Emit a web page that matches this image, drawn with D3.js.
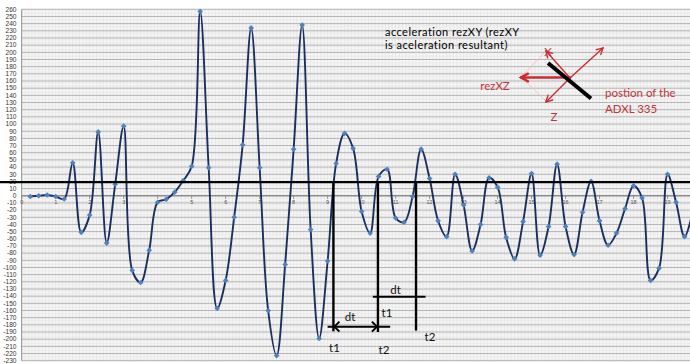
<!DOCTYPE html>
<html><head><meta charset="utf-8">
<script src="https://cdn.jsdelivr.net/npm/d3@7"></script>
<style>html,body{margin:0;padding:0;background:#fff;} svg{display:block;}</style>
</head><body>
<svg id="c" width="690" height="364"></svg>
<script>
// ---- data ----
const timeValues = [0.25,0.5,0.75,1,1.25,1.5,1.75,2,2.25,2.5,2.75,3,3.25,3.5,3.75,4,4.25,4.5,4.75,5,
  5.25,5.5,5.75,6,6.25,6.5,6.75,7,7.25,7.5,7.75,8,8.25,8.5,8.75,9,9.25,9.5,9.75,10,
  10.25,10.5,10.75,11,11.25,11.5,11.75,12,12.25,12.5,12.75,13,13.25,13.5,13.75,14,14.25,14.5,14.75,15,
  15.25,15.5,15.75,16,16.25,16.5,16.75,17,17.25,17.5,17.75,18,18.25,18.5,18.75,19,19.25,19.5,19.75];
const rezXY = [-1,0,1,-1,-4.5,46,-51,-27,89,-66,16,97,-104,-121,-76,-9,-5,5,21,41,
  257,39,-157,-118,-30,71,234,39,-160,-223,-96,65,238,-47,-199,-91,45,87,66,-22,
  -52,27,37,-31,-37,-1,65,24,-35,-57,30,-13,-77,-40,25,12,-58,-88,-36,31,
  -83,-43,44,-43,-82,-23,20,-35,-69,-52,-18,14,-3,-118,-101,30,-9,-57,-20];
const xTickLabels = [0,1,2,3,4,5,6,7,8,9,10,11,12,13,14,15,16,17,18,19];
const yTickLabels = [-230,-220,-210,-200,-190,-180,-170,-160,-150,-140,-130,-120,-110,-100,-90,-80,-70,-60,-50,-40,-30,-20,-10,
  0,10,20,30,40,50,60,70,80,90,100,110,120,130,140,150,160,170,180,190,200,210,220,230,240,250,260];
// annotation geometry in data units
const thresholdLevel = 19;
const markerTimes = [9.17, 10.48, 11.6];
const markerBottoms = [-189, -190, -188];
const titleLines = ["acceleration rezXY (rezXY", "is aceleration resultant)"];
const sensorLines = ["postion of the", "ADXL 335"];

// ---- scales ----
const W = 690, H = 364;
const x = d3.scaleLinear().domain([0, 19.66]).range([21.7, 690]);
const y = d3.scaleLinear().domain([-230, 260]).range([360.7, 9.3]);
const svg = d3.select('#c');

svg.append('defs').append('clipPath').attr('id','clip')
  .append('rect').attr('x', x(0)).attr('y', y(260)-1).attr('width', W - x(0)).attr('height', y(-230)-y(260)+2);

const grid = svg.append('g');
const vMinor = d3.range(1, 197).map(i => i/10);
grid.selectAll('line.vm').data(vMinor).join('line')
  .attr('x1', d => x(d)).attr('x2', d => x(d)).attr('y1', y(260)).attr('y2', y(-230))
  .attr('stroke', '#e6e6e6').attr('stroke-width', 0.8);
const hMinor = d3.range(-230, 261, 2);
grid.selectAll('line.hm').data(hMinor).join('line')
  .attr('x1', x(0)).attr('x2', W).attr('y1', d => y(d)).attr('y2', d => y(d))
  .attr('stroke', '#e2e2e2').attr('stroke-width', 0.6);
grid.selectAll('line.hM').data(yTickLabels).join('line')
  .attr('x1', x(0)).attr('x2', W).attr('y1', d => y(d)).attr('y2', d => y(d))
  .attr('stroke', d => d === 0 ? '#8c8c8c' : '#b3b3b3').attr('stroke-width', d => d === 0 ? 1.4 : 1);
grid.append('line').attr('x1', x(0)).attr('x2', x(0)).attr('y1', y(260)).attr('y2', y(-230))
  .attr('stroke', '#8c8c8c').attr('stroke-width', 1);
grid.selectAll('line.xt').data(xTickLabels).join('line')
  .attr('x1', d => x(d)).attr('x2', d => x(d)).attr('y1', y(0)).attr('y2', y(0)+3)
  .attr('stroke', '#8c8c8c');

svg.append('g').selectAll('text').data(yTickLabels).join('text')
  .attr('x', 16.5).attr('y', d => y(d)).attr('dy', '0.35em').attr('text-anchor', 'end')
  .attr('font-family', 'Liberation Sans, Arial, sans-serif').attr('font-size', 6.6)
  .attr('fill', '#333').text(d => d);

svg.append('g').selectAll('text').data(xTickLabels).join('text')
  .attr('x', d => x(d)).attr('y', y(0) + 8).attr('text-anchor', 'middle')
  .attr('font-family', 'Liberation Sans, Arial, sans-serif').attr('font-size', 5.5)
  .attr('fill', '#555').text(d => d);

// data line
const pts = timeValues.map((t, i) => [t, rezXY[i]]);
const line = d3.line().x(d => x(d[0])).y(d => y(d[1])).curve(d3.curveCatmullRom.alpha(0.5));
const plot = svg.append('g').attr('clip-path', 'url(#clip)');
plot.append('path').attr('d', line(pts)).attr('fill', 'none')
  .attr('stroke', '#1b2f5e').attr('stroke-width', 1.9);
plot.selectAll('path.m').data(pts).join('path')
  .attr('d', d3.symbol(d3.symbolSquare, 16)())
  .attr('transform', d => `translate(${x(d[0])},${y(d[1])}) rotate(45)`)
  .attr('fill', '#4f81bd');

// annotations (black)
const ann = svg.append('g').attr('stroke', '#000').attr('fill', 'none');
ann.append('line').attr('x1', 0).attr('x2', W).attr('y1', y(thresholdLevel)).attr('y2', y(thresholdLevel)).attr('stroke-width', 2.4);
markerTimes.forEach((t, i) => {
  ann.append('line').attr('x1', x(t)).attr('x2', x(t)).attr('y1', y(thresholdLevel)).attr('y2', y(markerBottoms[i])).attr('stroke-width', 2.4);
});
ann.append('line').attr('x1', x(10.33)).attr('x2', x(11.88)).attr('y1', y(-141)).attr('y2', y(-141)).attr('stroke-width', 2);
const ay = y(-182.5);
ann.append('line').attr('x1', x(9.0)).attr('x2', x(10.84)).attr('y1', ay).attr('y2', ay).attr('stroke-width', 2);
ann.append('path').attr('d', `M${x(markerTimes[0])+6},${ay-5} L${x(markerTimes[0])+1},${ay} L${x(markerTimes[0])+6},${ay+5}`).attr('stroke-width', 2);
ann.append('path').attr('d', `M${x(markerTimes[1])-6},${ay-5} L${x(markerTimes[1])-1},${ay} L${x(markerTimes[1])-6},${ay+5}`).attr('stroke-width', 2);

const tf = 'Lato, Carlito, "Open Sans", sans-serif';
const labels = [
  {t:'dt', x:350, y:321}, {t:'t1', x:334.5, y:352}, {t:'t2', x:384, y:354},
  {t:'dt', x:395.5, y:294}, {t:'t1', x:387, y:317}, {t:'t2', x:430, y:341}
];
svg.append('g').selectAll('text').data(labels).join('text')
  .attr('x', d => d.x).attr('y', d => d.y).attr('text-anchor', 'middle')
  .attr('font-family', tf).attr('font-size', 11.5).attr('fill', '#111').text(d => d.t);

svg.append('g').selectAll('text').data(titleLines).join('text')
  .attr('x', 385).attr('y', (d, i) => 36 + i * 13.3)
  .attr('font-family', tf).attr('font-size', 11).attr('letter-spacing', 0.45)
  .attr('fill', '#000').text(d => d);

// red sensor diagram
const red = '#cf2a2f';
const dg = svg.append('g').attr('stroke', red).attr('fill', 'none').attr('stroke-linecap', 'round');
function arrow(x1, y1, x2, y2, w, hl) {
  dg.append('line').attr('x1', x1).attr('y1', y1).attr('x2', x2).attr('y2', y2).attr('stroke-width', w);
  const a = Math.atan2(y2 - y1, x2 - x1);
  const p1 = [x2 - hl * Math.cos(a - 0.5), y2 - hl * Math.sin(a - 0.5)];
  const p2 = [x2 - hl * Math.cos(a + 0.5), y2 - hl * Math.sin(a + 0.5)];
  dg.append('path').attr('d', `M${p1} L${x2},${y2} L${p2}`).attr('stroke-width', w);
}
dg.append('path').attr('d', 'M546,51 L521,77 L547,102').attr('stroke', '#f0b8ba').attr('stroke-width', 0.8);
arrow(570, 78, 546, 51, 1.4, 7);
arrow(570, 78, 603, 48, 1.4, 7);
arrow(570, 78, 546, 102, 1.4, 7);
arrow(570, 77.5, 521, 77.5, 2.4, 8);
svg.append('line').attr('x1', 548).attr('y1', 63).attr('x2', 591).attr('y2', 98.5)
  .attr('stroke', '#000').attr('stroke-width', 4);
const redTexts = [
  {t:'X', x:548, y:56, a:'middle'}, {t:'Z', x:554, y:121, a:'middle'}, {t:'rezXZ', x:495, y:90, a:'middle'},
  {t:sensorLines[0], x:605, y:97, a:'start'}, {t:sensorLines[1], x:605, y:113, a:'start'}
];
svg.append('g').selectAll('text').data(redTexts).join('text')
  .attr('x', d => d.x).attr('y', d => d.y).attr('text-anchor', d => d.a)
  .attr('font-family', tf).attr('font-size', 11.5).attr('fill', '#c0353b').text(d => d.t);
</script>
</body></html>
